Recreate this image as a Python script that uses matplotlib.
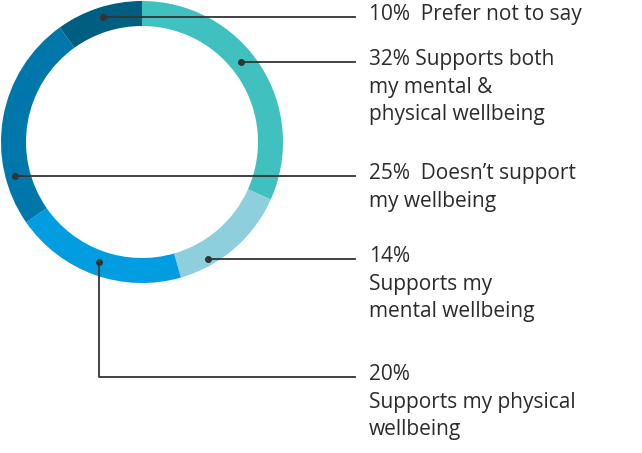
import matplotlib
matplotlib.use("Agg")
import matplotlib.pyplot as plt

values = [32, 14, 20, 25, 10]
labels = ["32% Supports both\nmy mental &\nphysical wellbeing",
          "14%\nSupports my\nmental wellbeing",
          "20%\nSupports my physical\nwellbeing",
          "25%  Doesn\u2019t support\nmy wellbeing",
          "10%  Prefer not to say"]
colors = ["#40C1C0", "#8DCFDC", "#009EE0", "#0077AA", "#005E80"]

# layout: dot position, text line y (pixels)
dots = [(241, 62), (208, 259), (99, 262), (15, 176), (103, 17)]
liney = [62, 259, 377, 176, 17]

fig = plt.figure(figsize=(6.42, 4.53), dpi=100)
ax = fig.add_axes([0, 0, 1, 1])

ax.pie(values, colors=colors, center=(142, 142), radius=141, startangle=-90,
       counterclock=True, wedgeprops=dict(width=25, edgecolor="none"), frame=True)
ax.set_xlim(0, 642)
ax.set_ylim(453, 0)
ax.set_aspect("auto")
ax.axis("off")

for (dx, dy), ly, lab in zip(dots, liney, labels):
    if dy != ly:
        ax.plot([dx, dx, 355], [dy, ly, ly], color="#333333", lw=1.3)
    else:
        ax.plot([dx, 355], [dy, ly], color="#333333", lw=1.3)
    ax.plot([dx], [dy], "o", color="#333333", ms=4)
    ax.text(369, ly - 13, lab, fontsize=15, family="Open Sans", color="#2b2b2b",
            va="top", ha="left", linespacing=1.42)

fig.savefig("out.png", dpi=100)
